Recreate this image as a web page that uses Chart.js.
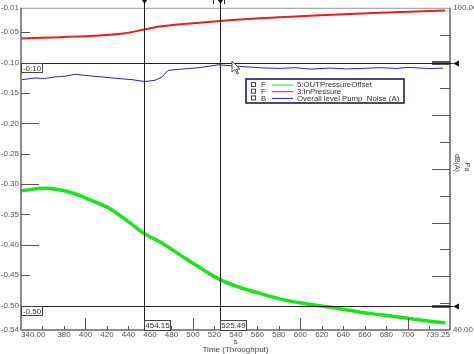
<!DOCTYPE html>
<html>
<head>
<meta charset="utf-8">
<script src="https://cdn.jsdelivr.net/npm/chart.js@4.4.1/dist/chart.umd.min.js"></script>
<style>
  body { margin: 0; background: #fff; }
  canvas { display: block; }
</style>
</head>
<body>
<canvas id="chart" width="474" height="354"></canvas>
<script>
// values (time in s, left axis units)
var greenTimes = [340, 362.3, 385.6, 404.2, 422.8, 441.4, 453.5, 469.4, 488, 506.6, 525.2, 543.8, 562.4, 581, 599.6, 618.3, 636.9, 655.5, 674.1, 692.7, 711.3, 734.6];
var greenValues = [-0.3108, -0.3070, -0.3135, -0.3259, -0.3405, -0.3639, -0.3802, -0.3953, -0.4164, -0.4376, -0.4571, -0.4701, -0.4798, -0.4888, -0.4953, -0.5002, -0.5050, -0.5107, -0.5148, -0.5189, -0.5237, -0.5286];

var redTimes = [340, 376.3, 413.5, 436.8, 453.5, 469.4, 497.3, 525.2, 562.4, 618.3, 674.1, 734.6];
var redValues = [-0.0604, -0.0583, -0.0555, -0.0520, -0.0462, -0.0409, -0.0360, -0.0316, -0.0271, -0.0222, -0.0181, -0.0144];

var blueTimes = [340.9, 353, 362, 371.6, 381, 390.3, 402.4, 415.4, 427.5, 443.3, 455.4, 464.7, 471.2, 476.8, 489.8, 504.7, 517.8, 523.3, 536.4, 553.1, 567, 581, 595, 609, 627.6, 643, 658.3, 674, 689.9, 700, 708.5, 720, 732.7];
var blueValues = [-0.1282, -0.1254, -0.1262, -0.1238, -0.1225, -0.1194, -0.1217, -0.1238, -0.1259, -0.1282, -0.1314, -0.1292, -0.1238, -0.1129, -0.1108, -0.1087, -0.1054, -0.1038, -0.1054, -0.1075, -0.1090, -0.1097, -0.1085, -0.1108, -0.1092, -0.1105, -0.1097, -0.1085, -0.1097, -0.1080, -0.1087, -0.1100, -0.1092];

var xTicks = [340, 360, 380, 400, 420, 440, 460, 480, 500, 520, 540, 560, 580, 600, 620, 640, 660, 680, 700, 720, 739.25];
var xHiddenLabels = [360, 720];
var yTicks = [-0.54, -0.50, -0.45, -0.40, -0.35, -0.30, -0.25, -0.20, -0.15, -0.10, -0.05, -0.01];
var y2Ticks = [40, 45, 50, 55, 60, 65, 70, 75, 80, 85, 90, 95, 100];

var cursorTimes = [454.15, 525.49];
var cursorLevels = [-0.10, -0.50];

var legendNames = ['5:OUTPressureOffset', '3:InPressure', 'Overall level Pump_Noise (A)'];
var legendFlags = ['F', 'F', 'B'];
var seriesColors = ['#19e619', '#e62020', '#2525c8'];

function pts(t, v) {
  var out = [];
  for (var i = 0; i < t.length; i++) out.push({ x: t[i], y: v[i] });
  return out;
}

var FONT = '"Liberation Sans", Arial, sans-serif';

var extras = {
  id: 'extras',
  afterDraw: function (chart) {
    var c = chart.ctx;
    var a = chart.chartArea;
    var sx = chart.scales.x, sy = chart.scales.y, sy2 = chart.scales.y2;
    c.save();

    // frame
    c.strokeStyle = '#999';
    c.lineWidth = 1;
    c.beginPath(); c.moveTo(a.left, a.top + 0.5); c.lineTo(a.right, a.top + 0.5); c.stroke();
    c.strokeStyle = '#666';
    c.lineWidth = 1.5;
    c.beginPath();
    c.moveTo(a.left, a.top); c.lineTo(a.left, a.bottom);
    c.lineTo(a.right, a.bottom);
    c.moveTo(a.right, a.top); c.lineTo(a.right, a.bottom);
    c.stroke();

    // tick marks drawn inward
    c.lineWidth = 1;
    c.strokeStyle = '#555';
    c.beginPath();
    yTicks.forEach(function (v) {
      if (v === -0.54 || v === -0.01) return;
      var py = Math.round(sy.getPixelForValue(v)) + 0.5;
      var longOne = Math.abs(Math.round(v * 100)) % 10 === 0;
      c.moveTo(a.left, py); c.lineTo(a.left + (longOne ? 18 : 9), py);
    });
    y2Ticks.forEach(function (v) {
      if (v === 40 || v === 100) return;
      var py = Math.round(sy2.getPixelForValue(v)) + 0.5;
      var longOne = v % 10 === 0;
      c.moveTo(a.right, py); c.lineTo(a.right - (longOne ? 18 : 10), py);
    });
    xTicks.forEach(function (v) {
      if (v === 340 || v === 739.25) return;
      var px = Math.round(sx.getPixelForValue(v)) + 0.5;
      var longOne = v % 100 === 0;
      c.moveTo(px, a.bottom); c.lineTo(px, a.bottom - (longOne ? 12 : 4));
    });
    c.stroke();

    // cursors
    c.strokeStyle = '#222';
    c.fillStyle = '#111';
    c.lineWidth = 1;
    cursorTimes.forEach(function (t) {
      var px = Math.round(sx.getPixelForValue(t)) + 0.5;
      c.beginPath(); c.moveTo(px, 0); c.lineTo(px, a.bottom); c.stroke();
      c.beginPath(); c.moveTo(px - 2.5, 0); c.lineTo(px + 2.5, 0); c.lineTo(px, 4); c.closePath(); c.fill();
    });
    // little marks next to second cursor
    var p2 = Math.round(sx.getPixelForValue(cursorTimes[1])) + 0.5;
    c.beginPath(); c.moveTo(p2 - 7, 0); c.lineTo(p2 - 7, 4); c.moveTo(p2 + 4, 0); c.lineTo(p2 + 4, 4); c.stroke();

    cursorLevels.forEach(function (v) {
      var py = Math.round(sy.getPixelForValue(v)) + 0.5;
      c.beginPath(); c.moveTo(a.left, py); c.lineTo(a.right + 3, py); c.stroke();
      c.lineWidth = 2.5;
      c.beginPath(); c.moveTo(a.right - 18, py); c.lineTo(a.right, py); c.stroke();
      c.lineWidth = 1;
      c.beginPath(); c.moveTo(a.right + 3, py); c.lineTo(a.right + 9, py - 3); c.lineTo(a.right + 9, py + 3); c.closePath(); c.fill();
    });

    // cursor value boxes
    c.font = '8px ' + FONT;
    c.textBaseline = 'middle';
    c.textAlign = 'center';
    function box(x, y, w, h, txt) {
      c.fillStyle = '#fff';
      c.fillRect(x, y, w, h);
      c.strokeStyle = '#444';
      c.strokeRect(x + 0.5, y + 0.5, w, h);
      c.fillStyle = '#333';
      c.fillText(txt, x + w / 2 + 0.5, y + h / 2 + 1);
    }
    cursorLevels.forEach(function (v) {
      var py = Math.round(sy.getPixelForValue(v));
      box(a.left, py, 21, 9, v.toFixed(2));
    });
    cursorTimes.forEach(function (t) {
      var px = Math.round(sx.getPixelForValue(t));
      box(px, a.bottom - 10, 26, 10, t.toFixed(2));
    });

    // legend
    var lx = 246, ly = 79, lw = 158, lh = 24;
    c.fillStyle = '#fff';
    c.fillRect(lx, ly, lw, lh);
    c.strokeStyle = '#1c1c5c';
    c.lineWidth = 1.6;
    c.strokeRect(lx, ly, lw, lh);
    c.lineWidth = 1;
    c.font = '7.8px ' + FONT;
    c.textAlign = 'left';
    for (var i = 0; i < legendNames.length; i++) {
      var ry = ly + 5.5 + i * 6.7;
      c.strokeStyle = '#444';
      c.strokeRect(lx + 5.5, ry - 2, 4, 4);
      c.fillStyle = '#333';
      c.fillText(legendFlags[i], lx + 15, ry + 0.5);
      c.strokeStyle = seriesColors[i];
      c.beginPath(); c.moveTo(lx + 26, ry + 0.5); c.lineTo(lx + 47, ry + 0.5); c.stroke();
      c.fillStyle = '#333';
      c.fillText(legendNames[i], lx + 51, ry + 0.5);
    }

    // mouse pointer
    c.beginPath();
    c.moveTo(232, 61); c.lineTo(232, 72); c.lineTo(235, 69.5); c.lineTo(237, 74);
    c.lineTo(238.5, 73.3); c.lineTo(236.5, 69); c.lineTo(240, 69); c.closePath();
    c.fillStyle = '#fff'; c.fill();
    c.strokeStyle = '#555'; c.stroke();

    // axis titles
    c.fillStyle = '#444';
    c.textAlign = 'center';
    c.font = '8px ' + FONT;
    c.fillText('s', (a.left + a.right) / 2, 342);
    c.fillText('Time (Throughput)', (a.left + a.right) / 2, 350);

    c.font = '7px ' + FONT;
    c.save(); c.translate(457, 163); c.rotate(Math.PI / 2); c.fillText('dB(A)', 0, 0); c.restore();
    c.save(); c.translate(467, 167); c.rotate(Math.PI / 2); c.fillText('Pa', 0, 0); c.restore();

    c.restore();
  }
};

var chart = new Chart(document.getElementById('chart'), {
  type: 'line',
  data: {
    datasets: [
      { label: legendNames[0], data: pts(greenTimes, greenValues), borderColor: seriesColors[0], borderWidth: 3.5, cubicInterpolationMode: 'monotone' },
      { label: legendNames[1], data: pts(redTimes, redValues), borderColor: seriesColors[1], borderWidth: 2, cubicInterpolationMode: 'monotone' },
      { label: legendNames[2], data: pts(blueTimes, blueValues), borderColor: seriesColors[2], borderWidth: 1, tension: 0 }
    ]
  },
  options: {
    responsive: false,
    animation: false,
    devicePixelRatio: 1,
    layout: { padding: { top: 4, left: 0, right: 0, bottom: 0 } },
    elements: { point: { radius: 0 } },
    plugins: { legend: { display: false }, tooltip: { enabled: false } },
    scales: {
      x: {
        type: 'linear', min: 340, max: 739.25,
        grid: { display: false, drawTicks: false }, border: { display: false },
        afterBuildTicks: function (s) { s.ticks = xTicks.map(function (v) { return { value: v }; }); },
        afterFit: function (s) { s.height = 24; },
        ticks: {
          autoSkip: false, maxRotation: 0, align: 'inner', padding: 0,
          color: '#555', font: { family: FONT, size: 8 },
          callback: function (v) {
            if (v === 340) return '340.00';
            if (v === 739.25) return '739.25';
            if (xHiddenLabels.indexOf(v) >= 0) return '';
            return String(v);
          }
        }
      },
      y: {
        position: 'left', min: -0.54, max: -0.01,
        grid: { display: false, drawTicks: false }, border: { display: false },
        afterBuildTicks: function (s) { s.ticks = yTicks.map(function (v) { return { value: v }; }); },
        afterFit: function (s) { s.width = 21; },
        ticks: {
          autoSkip: false, padding: 2, color: '#555', font: { family: FONT, size: 8 },
          callback: function (v) { return v.toFixed(2); }
        }
      },
      y2: {
        position: 'right', min: 40, max: 100,
        grid: { display: false, drawTicks: false }, border: { display: false },
        afterBuildTicks: function (s) { s.ticks = y2Ticks.map(function (v) { return { value: v }; }); },
        afterFit: function (s) { s.width = 24; },
        ticks: {
          autoSkip: false, padding: 3, color: '#555', font: { family: FONT, size: 8 },
          callback: function (v) { return (v === 40 || v === 100) ? v.toFixed(2) : ''; }
        }
      }
    }
  },
  plugins: [extras]
});
</script>
</body>
</html>
